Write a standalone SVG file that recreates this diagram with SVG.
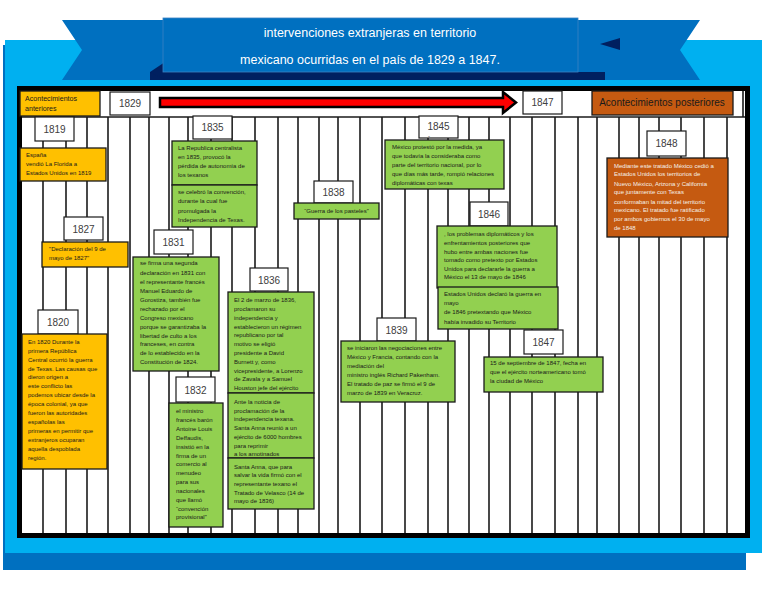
<svg xmlns="http://www.w3.org/2000/svg" width="768" height="594" viewBox="0 0 768 594">
<style>
text{font-family:"Liberation Sans",Arial,sans-serif}
.yr{fill:#fff;stroke:#1a1a1a;stroke-width:1.2}
.yt{font-size:10px;fill:#404040;text-anchor:middle}
.g{fill:#92d050;stroke:#1a1a1a;stroke-width:1.3}
.o{fill:#ffc000;stroke:#1a1a1a;stroke-width:1.3}
.b{fill:#c55a11;stroke:#1a1a1a;stroke-width:1.3}
.t{font-size:6px;fill:#1a1a1a}
.tw{font-size:6px;fill:#f5f0e8}
.vl{stroke:#1a1a1a;stroke-width:1.6}
</style>
<rect x="0" y="0" width="768" height="594" fill="#fff"/>
<rect x="3" y="45" width="743" height="525" fill="#0070c0"/>
<rect x="5" y="40" width="757" height="513" fill="#00b0f0"/>
<g id="banner">
<polygon points="62,20 165,20 165,80 62,80 82,50" fill="#0070c0"/>
<polygon points="578,20 700,20 680,50 700,80 578,80" fill="#0070c0"/>
<rect x="150" y="72" width="455" height="8" fill="#002060"/>
<polygon points="150,72 165,62 165,80" fill="#002060"/>
<polygon points="600,44 620,38 620,50" fill="#002060"/>
<rect x="163" y="18" width="415" height="54" fill="#0070c0" stroke="#3b82c4" stroke-width="0.8"/>
<text x="370" y="37" font-size="12.5" fill="#fff" text-anchor="middle">intervenciones extranjeras en territorio</text>
<text x="370" y="64" font-size="12.5" fill="#fff" text-anchor="middle">mexicano ocurridas en el país de 1829 a 1847.</text>
</g>
<rect x="19.5" y="88.5" width="728" height="447" fill="#fff" stroke="#000" stroke-width="5"/>
<g id="grid">
<line x1="22" y1="117" x2="745" y2="117" class="vl"/>
<g class="vl">
<line x1="43" y1="117" x2="43" y2="533"/><line x1="66" y1="117" x2="66" y2="533"/><line x1="87" y1="117" x2="87" y2="533"/><line x1="108" y1="117" x2="108" y2="533"/><line x1="130" y1="117" x2="130" y2="533"/><line x1="149" y1="117" x2="149" y2="533"/><line x1="169" y1="117" x2="169" y2="533"/><line x1="188" y1="117" x2="188" y2="533"/><line x1="211" y1="117" x2="211" y2="533"/><line x1="232" y1="117" x2="232" y2="533"/><line x1="255" y1="117" x2="255" y2="533"/><line x1="278" y1="117" x2="278" y2="533"/><line x1="298" y1="117" x2="298" y2="533"/><line x1="319" y1="117" x2="319" y2="533"/><line x1="338" y1="117" x2="338" y2="533"/><line x1="360" y1="117" x2="360" y2="533"/><line x1="382" y1="117" x2="382" y2="533"/><line x1="405" y1="117" x2="405" y2="533"/><line x1="428" y1="117" x2="428" y2="533"/><line x1="448" y1="117" x2="448" y2="533"/><line x1="469" y1="117" x2="469" y2="533"/><line x1="489" y1="117" x2="489" y2="533"/><line x1="510" y1="117" x2="510" y2="533"/><line x1="532" y1="117" x2="532" y2="533"/><line x1="555" y1="117" x2="555" y2="533"/><line x1="578" y1="117" x2="578" y2="533"/><line x1="597" y1="117" x2="597" y2="533"/><line x1="619" y1="117" x2="619" y2="533"/><line x1="639" y1="117" x2="639" y2="533"/><line x1="659" y1="117" x2="659" y2="533"/><line x1="681" y1="117" x2="681" y2="533"/><line x1="704" y1="117" x2="704" y2="533"/><line x1="727" y1="117" x2="727" y2="533"/>
<line x1="743" y1="91" x2="743" y2="117"/>
</g>
</g>
<g id="connectors">
<polygon points="160,98 503,98 503,92 516,102.5 503,113 503,107 160,107" fill="#ff0000" stroke="#000" stroke-width="2.5" stroke-linejoin="miter"/>
</g>
<g id="anteriores"><rect x="20" y="91" width="80" height="25" class="o"/><text style="font-size:7.1px;fill:#1a1a1a"><tspan x="25" y="101">Acontecimientos</tspan><tspan x="25" y="111">anteriores</tspan></text></g>
<g id="posteriores"><rect x="592" y="91" width="141" height="24" class="b"/><text x="662" y="106" font-size="10" fill="#1a1a1a" text-anchor="middle">Acontecimientos posteriores</text></g>
<g id="y1829"><rect x="110" y="92" width="40" height="23" class="yr"/><text class="yt" x="130" y="107">1829</text></g>
<g id="y1847a"><rect x="523" y="91" width="39" height="23" class="yr"/><text class="yt" x="542.5" y="106">1847</text></g>
<g id="y1819"><rect x="35" y="117" width="39" height="24" class="yr"/><text class="yt" x="54.5" y="133">1819</text></g>
<g id="n1819"><rect x="20" y="148" width="86" height="33" class="o"/><text class="t"><tspan x="26" y="157">España</tspan><tspan x="26" y="166">vendió La Florida a</tspan><tspan x="26" y="175">Estados Unidos en 1819</tspan></text></g>
<g id="y1827"><rect x="64" y="217" width="39" height="23" class="yr"/><text class="yt" x="83.5" y="233">1827</text></g>
<g id="n1827"><rect x="42" y="242" width="86" height="25" class="o"/><text class="t"><tspan x="49" y="251">"Declaración del 9 de</tspan><tspan x="49" y="260">mayo de 1827"</tspan></text></g>
<g id="y1820"><rect x="38" y="310" width="40" height="24" class="yr"/><text class="yt" x="58" y="326">1820</text></g>
<g id="n1820"><rect x="22" y="334" width="85" height="135" class="o"/><text class="t"><tspan x="28" y="344">En 1820 Durante la</tspan><tspan x="28" y="353">primera República</tspan><tspan x="28" y="362">Central ocurrió la guerra</tspan><tspan x="28" y="371">de Texas. Las causas que</tspan><tspan x="28" y="379">dieron origen a</tspan><tspan x="28" y="388">este conflicto las</tspan><tspan x="28" y="397">podemos ubicar desde la</tspan><tspan x="28" y="406">época colonial, ya que</tspan><tspan x="28" y="415">fueron las autoridades</tspan><tspan x="28" y="424">españolas las</tspan><tspan x="28" y="433">primeras en permitir que</tspan><tspan x="28" y="442">extranjeros ocuparan</tspan><tspan x="28" y="451">aquella despoblada</tspan><tspan x="28" y="460">región.</tspan></text></g>
<g id="y1831"><rect x="154" y="230" width="39" height="24" class="yr"/><text class="yt" x="173.5" y="246">1831</text></g>
<g id="n1831"><rect x="133" y="257" width="86" height="114" class="g"/><text class="t"><tspan x="140" y="265">se firma una segunda</tspan><tspan x="140" y="275">declaración en 1831 con</tspan><tspan x="140" y="284">el representante francés</tspan><tspan x="140" y="293">Manuel Eduardo de</tspan><tspan x="140" y="302">Gorostiza, también fue</tspan><tspan x="140" y="311">rechazado por el</tspan><tspan x="140" y="320">Congreso mexicano</tspan><tspan x="140" y="329">porque se garantizaba la</tspan><tspan x="140" y="338">libertad de culto a los</tspan><tspan x="140" y="346">franceses, en contra</tspan><tspan x="140" y="355">de lo establecido en la</tspan><tspan x="140" y="364">Constitución de 1824.</tspan></text></g>
<g id="y1832"><rect x="176" y="377" width="39" height="25" class="yr"/><text class="yt" x="195.5" y="394">1832</text></g>
<g id="n1832"><rect x="169" y="403" width="54" height="124" class="g"/><text class="t"><tspan x="176" y="413">el ministro</tspan><tspan x="176" y="422">francés barón</tspan><tspan x="176" y="431">Antoine Louis</tspan><tspan x="176" y="440">Deffaudis,</tspan><tspan x="176" y="449">insistió en la</tspan><tspan x="176" y="458">firma de un</tspan><tspan x="176" y="466">comercio al</tspan><tspan x="176" y="475">menudeo</tspan><tspan x="176" y="484">para sus</tspan><tspan x="176" y="493">nacionales</tspan><tspan x="176" y="502">que llamó</tspan><tspan x="176" y="511">“convención</tspan><tspan x="176" y="519">provisional”</tspan></text></g>
<g id="y1835"><rect x="193" y="116" width="39" height="23" class="yr"/><text class="yt" x="212.5" y="131">1835</text></g>
<g id="n1835a"><rect x="172" y="141" width="85" height="44" class="g"/><text class="t"><tspan x="178" y="150">La Republica centralista</tspan><tspan x="178" y="159">en 1835, provocó la</tspan><tspan x="178" y="168">pérdida de autonomía de</tspan><tspan x="178" y="177">los texanos</tspan></text></g>
<g id="n1835b"><rect x="172" y="185" width="85" height="42" class="g"/><text class="t"><tspan x="178" y="194">se celebró la convención,</tspan><tspan x="178" y="203">durante la cual fue</tspan><tspan x="178" y="213">promulgada la</tspan><tspan x="178" y="222">Independencia de Texas.</tspan></text></g>
<g id="y1836"><rect x="250" y="268" width="38" height="23" class="yr"/><text class="yt" x="269" y="284">1836</text></g>
<g id="n1836a"><rect x="228" y="292" width="86" height="101" class="g"/><text class="t"><tspan x="234" y="302">El 2 de marzo de 1836,</tspan><tspan x="234" y="311">proclamaron su</tspan><tspan x="234" y="320">independencia y</tspan><tspan x="234" y="329">establecieron un régimen</tspan><tspan x="234" y="337">republicano por tal</tspan><tspan x="234" y="346">motivo se eligió</tspan><tspan x="234" y="355">presidente a David</tspan><tspan x="234" y="364">Burnett y, como</tspan><tspan x="234" y="373">vicepresidente, a Lorenzo</tspan><tspan x="234" y="381">de Zavala y a Samuel</tspan><tspan x="234" y="390">Houston jefe del ejército</tspan></text></g>
<g id="n1836b"><rect x="228" y="393" width="86" height="65" class="g"/><text class="t"><tspan x="234" y="404">Ante la noticia de</tspan><tspan x="234" y="413">proclamación de la</tspan><tspan x="234" y="421">independencia texana.</tspan><tspan x="234" y="430">Santa Anna reunió a un</tspan><tspan x="234" y="439">ejército de 6000 hombres</tspan><tspan x="234" y="448">para reprimir</tspan><tspan x="234" y="456">a los amotinados</tspan></text></g>
<g id="n1836c"><rect x="228" y="458" width="86" height="51" class="g"/><text class="t"><tspan x="234" y="469">Santa Anna, que para</tspan><tspan x="234" y="477">salvar la vida firmó con el</tspan><tspan x="234" y="486">representante texano el</tspan><tspan x="234" y="495">Tratado de Velasco (14 de</tspan><tspan x="234" y="503">mayo de 1836)</tspan></text></g>
<g id="y1838"><rect x="314" y="181" width="39" height="22" class="yr"/><text class="yt" x="333.5" y="196">1838</text></g>
<g id="n1838"><rect x="294" y="203" width="85" height="16" class="g"/><text class="t" x="336.5" y="213" text-anchor="middle">“Guerra de los pasteles”</text></g>
<g id="y1839"><rect x="377" y="318" width="39" height="23" class="yr"/><text class="yt" x="396.5" y="334">1839</text></g>
<g id="n1839"><rect x="341" y="341" width="114" height="61" class="g"/><text class="t"><tspan x="347" y="350">se iniciaron las negociaciones entre</tspan><tspan x="347" y="359">México y Francia, contando con la</tspan><tspan x="347" y="368">mediación del</tspan><tspan x="347" y="377">ministro inglés Richard Pakenham.</tspan><tspan x="347" y="386">El tratado de paz se firmó el 9 de</tspan><tspan x="347" y="395">marzo de 1839 en Veracruz.</tspan></text></g>
<g id="y1845"><rect x="419" y="116" width="39" height="22" class="yr"/><text class="yt" x="438.5" y="130">1845</text><text class="t" x="428" y="138">-</text></g>
<g id="n1845"><rect x="385" y="140" width="119" height="49" class="g"/><text class="t"><tspan x="392" y="149">México protestó por la medida, ya</tspan><tspan x="392" y="158">que todavía la consideraba como</tspan><tspan x="392" y="167">parte del territorio nacional, por lo</tspan><tspan x="392" y="176">que días más tarde, rompió relaciones</tspan><tspan x="392" y="185">diplomáticas con texas</tspan></text></g>
<g id="y1846"><rect x="470" y="202" width="38" height="24" class="yr"/><text class="yt" x="489" y="218">1846</text></g>
<g id="n1846a"><rect x="437" y="226" width="120" height="62" class="g"/><text class="t"><tspan x="444" y="236">, los problemas diplomáticos y los</tspan><tspan x="444" y="245">enfrentamientos posteriores que</tspan><tspan x="444" y="254">hubo entre ambas naciones fue</tspan><tspan x="444" y="262">tomado como pretexto por Estados</tspan><tspan x="444" y="271">Unidos para declararle la guerra a</tspan><tspan x="444" y="279">México el 13 de mayo de 1846</tspan></text></g>
<g id="n1846b"><rect x="438" y="287" width="120" height="42" class="g"/><text class="t"><tspan x="444" y="296">Estados Unidos declaró la guerra en</tspan><tspan x="444" y="305">mayo</tspan><tspan x="444" y="314">de 1846 pretextando que México</tspan><tspan x="444" y="324">había invadido su Territorio</tspan></text></g>
<g id="y1847b"><rect x="524" y="330" width="39" height="24" class="yr"/><text class="yt" x="543.5" y="346">1847</text></g>
<g id="n1847"><rect x="484" y="357" width="119" height="35" class="g"/><text class="t"><tspan x="490" y="365">15 de septiembre de 1847, fecha en</tspan><tspan x="490" y="374">que el ejército norteamericano tomó</tspan><tspan x="490" y="383">la ciudad de México</tspan></text></g>
<g id="y1848"><rect x="647" y="131" width="39" height="25" class="yr"/><text class="yt" x="666.5" y="147">1848</text></g>
<g id="n1848"><rect x="607" y="158" width="121" height="79" class="b"/><text class="tw"><tspan x="614" y="168">Mediante este tratado México cedió a</tspan><tspan x="614" y="176">Estados Unidos los territorios de</tspan><tspan x="614" y="186">Nuevo México, Arizona y California</tspan><tspan x="614" y="194">que juntamente con Texas</tspan><tspan x="614" y="204">conformaban la mitad del territorio</tspan><tspan x="614" y="212">mexicano. El tratado fue ratificado</tspan><tspan x="614" y="221">por ambos gobiernos el 30 de mayo</tspan><tspan x="614" y="230">de 1848</tspan></text></g>
</svg>
